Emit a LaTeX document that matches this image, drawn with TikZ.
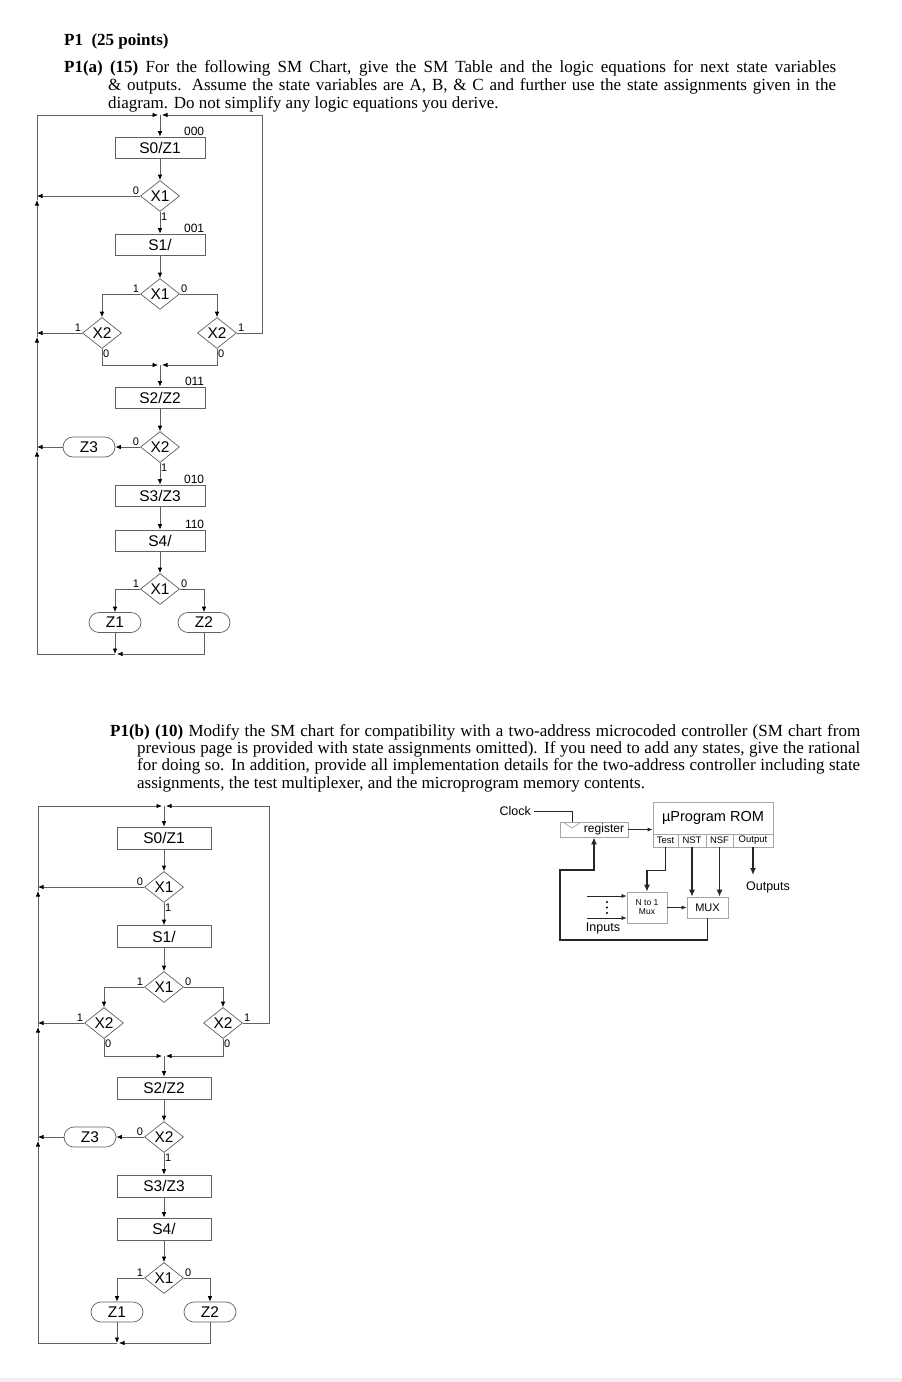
\documentclass[tikz,border=0pt]{standalone}
\usepackage{fontspec}
\setmainfont{Liberation Serif}
\setsansfont{Liberation Sans}
\usetikzlibrary{arrows.meta,shapes.geometric,calc}
\begin{document}
\begin{tikzpicture}[x=1pt,y=-1pt,
  ln/.style={draw=gray!75!black, line width=0.7pt},
  arr/.style={ln, -{Latex[length=5.5pt,width=4.5pt,color=black]}},
  stbox/.style={draw=gray!75!black, line width=0.7pt, minimum width=90pt, minimum height=21pt, inner sep=0pt, font=\sffamily\fontsize{15.5}{15.5}\selectfont},
  stboxb/.style={stbox, minimum width=94pt, minimum height=22pt},
  dec/.style={diamond, draw=gray!75!black, line width=0.7pt, aspect=1.26, minimum width=39pt, minimum height=31pt, inner sep=0pt, font=\sffamily\fontsize{15.5}{15.5}\selectfont},
  oval/.style={draw=gray!75!black, line width=0.7pt, rounded corners=10pt, minimum width=52pt, minimum height=20pt, inner sep=0pt, font=\sffamily\fontsize{15.5}{15.5}\selectfont},
  lbl/.style={font=\sffamily\fontsize{11}{11}\selectfont, inner sep=1pt},
  code/.style={font=\sffamily\fontsize{12}{12}\selectfont, inner sep=1pt, anchor=south east},
  body/.style={font=\fontsize{17}{18}\selectfont, inner sep=0pt, anchor=base west},
  cbox/.style={draw=gray!70, line width=0.7pt, inner sep=0pt},
  fld/.style={cbox, minimum height=13pt, font=\sffamily\fontsize{9.5}{9.5}\selectfont},
  ctext/.style={font=\sffamily\fontsize{12.5}{12.5}\selectfont, inner sep=0pt},
  thk/.style={draw=gray!30!black, line width=1.4pt},
  tharr/.style={thk, -{Latex[length=7pt,width=6pt]}},
  thin/.style={draw=gray!30!black, line width=0.6pt},
  thinarr/.style={thin, -{Latex[length=5pt,width=4pt]}}
]
\useasboundingbox (0,0) rectangle (902,1382);
\fill[white] (0,0) rectangle (902,1382);
\fill[gray!12] (0,1378) rectangle (902,1382);

% ---------------- text ----------------
\node[body] (t0) at (64,45) {\textbf{P1\hspace{0.5em}(25 points)}};
\node[body] (t1) at (64,72) {\hbox to 772pt{\textbf{P1(a)} \textbf{(15)} For the following SM Chart, give the SM Table and the logic equations for next state variables}};
\node[body] (t2) at (108,90) {\hbox to 728pt{\& outputs. Assume the state variables are A, B, \& C and further use the state assignments given in the}};
\node[body] (t3) at (108,108) {diagram. Do not simplify any logic equations you derive.};

\node[body] (u1) at (110,736) {\hbox to 750pt{\textbf{P1(b)} \textbf{(10)} Modify the SM chart for compatibility with a two-address microcoded controller (SM chart from}};
\node[body] (u2) at (137,753) {\hbox to 723pt{previous page is provided with state assignments omitted). If you need to add any states, give the rational}};
\node[body] (u3) at (137,770) {\hbox to 723pt{for doing so. In addition, provide all implementation details for the two-address controller including state}};
\node[body] (u4) at (137,788) {assignments, the test multiplexer, and the microprogram memory contents.};

% ---------------- chart (a) ----------------
\node[stbox] (aS0) at (160,147.5) {S0/Z1};
\node[code] at (aS0.north east) {000};
\node[dec] (aX1a) at (160,196) {X1};
\node[stbox] (aS1) at (160,244.5) {S1/};
\node[code] at (aS1.north east) {001};
\node[dec] (aX1b) at (160,294) {X1};
\node[dec] (aX2l) at (102,333) {X2};
\node[dec] (aX2r) at (217,333) {X2};
\node[stbox] (aS2) at (160,397.5) {S2/Z2};
\node[code] at (aS2.north east) {011};
\node[dec] (aX2c) at (160,447) {X2};
\node[oval] (aZ3) at (89,447) {Z3};
\node[stbox] (aS3) at (160,495.5) {S3/Z3};
\node[code] at (aS3.north east) {010};
\node[stbox] (aS4) at (160,540.5) {S4/};
\node[code] at (aS4.north east) {110};
\node[dec] (aX1d) at (160,589) {X1};
\node[oval] (aZ1) at (115,622.5) {Z1};
\node[oval] (aZ2) at (204,622.5) {Z2};

\node[lbl, anchor=south east] at (aX1a.west) {0};
\node[lbl, anchor=north west] at (aX1a.south) {1};
\node[lbl, anchor=south east] at (aX1b.west) {1};
\node[lbl, anchor=south west] at (aX1b.east) {0};
\node[lbl, anchor=south east] at (aX2l.west) {1};
\node[lbl, anchor=north west] at (aX2l.south) {0};
\node[lbl, anchor=south west] at (aX2r.east) {1};
\node[lbl, anchor=north west] at (aX2r.south) {0};
\node[lbl, anchor=south east] at (aX2c.west) {0};
\node[lbl, anchor=north west] at (aX2c.south) {1};
\node[lbl, anchor=south east] at (aX1d.west) {1};
\node[lbl, anchor=south west] at (aX1d.east) {0};

\coordinate (aTL) at (37,115);
\coordinate (aTR) at (262,115);
\coordinate (aTop) at (160,115);
\coordinate (aTopL) at (158,115);
\coordinate (aTopR) at (162,115);
\coordinate (aBL) at (37,654);
\coordinate (aBm) at (115,654);
\coordinate (aBm2) at (117,654);
\coordinate (aMid) at (160,365);
\coordinate (aMidL) at (158,365);
\coordinate (aMidR) at (162,365);
\coordinate (aJ1) at (37,200);
\coordinate (aJ2) at (37,337);
\coordinate (aJ3) at (37,451);

\draw[arr] (aTop) -- (aS0);
\draw[arr] (aS0) -- (aX1a);
\draw[arr] (aX1a.west) -- (aX1a.west -| aTL);
\draw[arr] (aX1a) -- (aS1);
\draw[arr] (aS1) -- (aX1b);
\draw[arr] (aX1b.west) -| (aX2l.north);
\draw[arr] (aX1b.east) -| (aX2r.north);
\draw[arr] (aX2l.west) -- (aX2l.west -| aTL);
\draw[arr] (aX2l.south) |- (aMidL);
\draw[arr] (aX2r.south) |- (aMidR);
\draw[arr] (aX2r.east) -| (aTR) -- (aTopR);
\draw[arr] (aMid) -- (aS2);
\draw[arr] (aS2) -- (aX2c);
\draw[arr] (aX2c) -- (aZ3);
\draw[arr] (aZ3) -- (aZ3.west -| aTL);
\draw[arr] (aX2c) -- (aS3);
\draw[arr] (aS3) -- (aS4);
\draw[arr] (aS4) -- (aX1d);
\draw[arr] (aX1d.west) -| (aZ1.north);
\draw[arr] (aX1d.east) -| (aZ2.north);
\draw[arr] (aZ1) -- (aBm);
\draw[arr] (aZ2.south) |- (aBm2);
\draw[ln] (aBm) -- (aBL);
\draw[arr] (aBL) -- (aJ3);
\draw[arr] (aJ3) -- (aJ2);
\draw[arr] (aJ2) -- (aJ1);
\draw[arr] (aJ1) -- (aTL) -- (aTopL);

% ---------------- chart (b) ----------------
\node[stboxb] (bS0) at (164,838) {S0/Z1};
\node[dec] (bX1a) at (164,887) {X1};
\node[stboxb] (bS1) at (164,936.5) {S1/};
\node[dec] (bX1b) at (164,987) {X1};
\node[dec] (bX2l) at (104,1023) {X2};
\node[dec] (bX2r) at (223,1023) {X2};
\node[stboxb] (bS2) at (164,1088) {S2/Z2};
\node[dec] (bX2c) at (164,1137) {X2};
\node[oval] (bZ3) at (90,1137) {Z3};
\node[stboxb] (bS3) at (164,1186) {S3/Z3};
\node[stboxb] (bS4) at (164,1229) {S4/};
\node[dec] (bX1d) at (164,1278) {X1};
\node[oval] (bZ1) at (117,1312) {Z1};
\node[oval] (bZ2) at (210,1312) {Z2};

\node[lbl, anchor=south east] at (bX1a.west) {0};
\node[lbl, anchor=north west] at (bX1a.south) {1};
\node[lbl, anchor=south east] at (bX1b.west) {1};
\node[lbl, anchor=south west] at (bX1b.east) {0};
\node[lbl, anchor=south east] at (bX2l.west) {1};
\node[lbl, anchor=north west] at (bX2l.south) {0};
\node[lbl, anchor=south west] at (bX2r.east) {1};
\node[lbl, anchor=north west] at (bX2r.south) {0};
\node[lbl, anchor=south east] at (bX2c.west) {0};
\node[lbl, anchor=north west] at (bX2c.south) {1};
\node[lbl, anchor=south east] at (bX1d.west) {1};
\node[lbl, anchor=south west] at (bX1d.east) {0};

\coordinate (bTL) at (38,806);
\coordinate (bTR) at (269,806);
\coordinate (bTop) at (164,806);
\coordinate (bTopL) at (162,806);
\coordinate (bTopR) at (166,806);
\coordinate (bBL) at (38,1343);
\coordinate (bBm) at (117,1343);
\coordinate (bBm2) at (119,1343);
\coordinate (bMid) at (164,1056);
\coordinate (bMidL) at (162,1056);
\coordinate (bMidR) at (166,1056);
\coordinate (bJ1) at (38,891);
\coordinate (bJ2) at (38,1027);
\coordinate (bJ3) at (38,1141);

\draw[arr] (bTop) -- (bS0);
\draw[arr] (bS0) -- (bX1a);
\draw[arr] (bX1a.west) -- (bX1a.west -| bTL);
\draw[arr] (bX1a) -- (bS1);
\draw[arr] (bS1) -- (bX1b);
\draw[arr] (bX1b.west) -| (bX2l.north);
\draw[arr] (bX1b.east) -| (bX2r.north);
\draw[arr] (bX2l.west) -- (bX2l.west -| bTL);
\draw[arr] (bX2l.south) |- (bMidL);
\draw[arr] (bX2r.south) |- (bMidR);
\draw[arr] (bX2r.east) -| (bTR) -- (bTopR);
\draw[arr] (bMid) -- (bS2);
\draw[arr] (bS2) -- (bX2c);
\draw[arr] (bX2c) -- (bZ3);
\draw[arr] (bZ3) -- (bZ3.west -| bTL);
\draw[arr] (bX2c) -- (bS3);
\draw[arr] (bS3) -- (bS4);
\draw[arr] (bS4) -- (bX1d);
\draw[arr] (bX1d.west) -| (bZ1.north);
\draw[arr] (bX1d.east) -| (bZ2.north);
\draw[arr] (bZ1) -- (bBm);
\draw[arr] (bZ2.south) |- (bBm2);
\draw[ln] (bBm) -- (bBL);
\draw[arr] (bBL) -- (bJ3);
\draw[arr] (bJ3) -- (bJ2);
\draw[arr] (bJ2) -- (bJ1);
\draw[arr] (bJ1) -- (bTL) -- (bTopL);

% ---------------- controller ----------------
\node[cbox, minimum width=120pt, minimum height=32pt, font=\sffamily\fontsize{14.5}{14.5}\selectfont] (romt) at (713,818) {\textmu Program ROM};
\node[fld, minimum width=25pt] (test) at (665.5,840.5) {Test};
\node[fld, minimum width=28pt] (nst) at (692,840.5) {NST};
\node[fld, minimum width=27pt] (nsf) at (719.5,840.5) {NSF};
\node[fld, minimum width=40pt] (outf) at (753,840.5) {Output};
\node[cbox, minimum width=68pt, minimum height=15pt, font=\sffamily\fontsize{12}{12}\selectfont] (reg) at (594,829.5) {\hspace*{20pt}register};
\draw[draw=gray!70, line width=0.7pt] (563,822) -- (572,828) -- (581,822);
\node[ctext, anchor=east] (clk) at (531,811) {Clock};
\coordinate (clkin) at (572,822);
\draw[thin] ([xshift=3pt]clk.east) -| (clkin);
\draw[thinarr, line width=0.9pt] (reg) -- (reg -| romt.west);

\node[cbox, minimum width=40pt, minimum height=31pt, align=center, font=\sffamily\fontsize{8.5}{9}\selectfont] (n1mux) at (647,907.5) {N to 1\\Mux};
\node[cbox, minimum width=41pt, minimum height=21pt, font=\sffamily\fontsize{11}{11}\selectfont] (mux) at (707.5,907.5) {MUX};

\draw[tharr] (test.south) -- ++(0,23) -| (n1mux.north);
\draw[tharr] (nst.south) -- (nst.south |- mux.north);
\draw[tharr] (nsf.south) -- (nsf.south |- mux.north);
\coordinate (outend) at (753,875);
\draw[tharr] (outf.south) -- (outend);
\node[ctext] (outs) at (768,887) {Outputs};
\draw[thinarr] (n1mux) -- (mux);

\coordinate (in1) at (587,896);
\coordinate (in2) at (587,918);
\draw[thinarr] (in1) -- (in1 -| n1mux.west);
\draw[thinarr] (in2) -- (in2 -| n1mux.west);
\foreach \yy in {902,907.5,913} \fill[black] (607,\yy) circle (1.2pt);
\node[ctext] (ins) at (603,928) {Inputs};

\coordinate (fb1) at (560,940);
\coordinate (fb2) at (560,870);
\draw[tharr] (mux.south) |- (fb1) -- (fb2) -| (reg.south);
\end{tikzpicture}
\end{document}
